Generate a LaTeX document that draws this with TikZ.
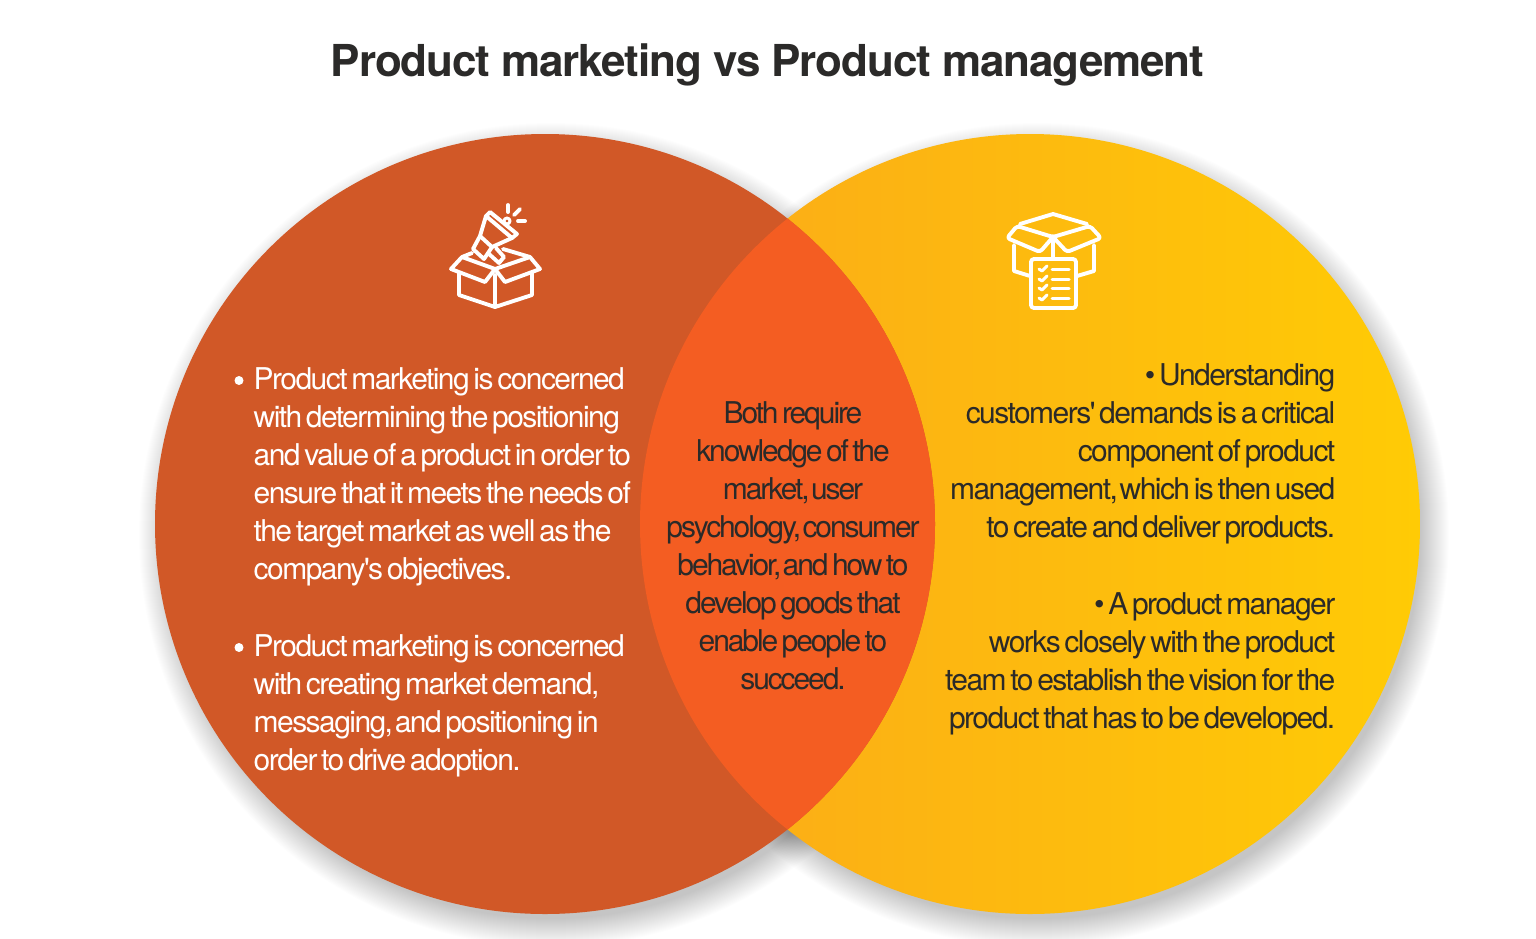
\documentclass[tikz,border=0pt]{standalone}
\usepackage{fontspec}
\setmainfont{TeX Gyre Heros}[LetterSpace=-5.2,WordSpace=0.55,Ligatures=TeXOff]
\newfontfamily\titlefont{TeX Gyre Heros}[LetterSpace=-2.5]
\newfontfamily\midfont{TeX Gyre Heros}[LetterSpace=-7,WordSpace=0.55,Ligatures=TeXOff]
\newcommand{\tightcomma}{,\kern-2pt\ }
\definecolor{leftc}{HTML}{D15827}
\definecolor{midc}{HTML}{F45D22}
\definecolor{yelA}{HTML}{FBA919}
\definecolor{yelB}{HTML}{FFCB05}
\definecolor{ink}{HTML}{2B2A29}
\tikzset{
  bodytext/.style={inner sep=0pt,font=\fontsize{30}{38.1}\selectfont,anchor=north west},
  icon/.style={draw=white,line width=3.9pt,line join=round,line cap=round},
}
\begin{document}
\begin{tikzpicture}[x=1pt,y=-1pt]
\useasboundingbox (0,0) rectangle (1536,938);
\fill[white] (0,0) rectangle (1536,938);
% shadows
\foreach \r in {412,411,...,384}{
  \fill[black,opacity=0.009] (1037,535) circle[radius=\r];
  \fill[black,opacity=0.009] (551,535) circle[radius=\r];
}
% circles
\begin{scope}
\clip (1030,524) circle[radius=390];
\shade[left color=yelA,right color=yelB] (640,134) rectangle (1420,914);
\end{scope}
\fill[leftc] (545,524) circle[radius=390];
\begin{scope}
\clip (545,524) circle[radius=390];
\fill[midc] (1030,524) circle[radius=390];
\end{scope}
% title
\node[inner sep=0pt,text=ink,font=\titlefont\bfseries\fontsize{44}{50}\selectfont] (title) at (767.5,65) {Product marketing vs Product management};
% left text
\fill[white] (239,380.5) circle[radius=4.5];
\fill[white] (239,647.5) circle[radius=4.5];
\node[bodytext,text=white,align=left] (l1) at (253.5,367) {Product marketing is concerned\\with determining the positioning\\and value of a product in order to\\ensure that it meets the needs of\\the target market as well as the\\company's objectives.};
\node[bodytext,text=white,align=left] (l2) at (253.5,634) {Product marketing is concerned\\with creating market demand,\\messaging\tightcomma and positioning in\\order to drive adoption.};
% centre text
\node[bodytext,text=ink,align=center,anchor=north] (c) at (793,401) {\midfont Both require\\\midfont knowledge of the\\\midfont market\tightcomma user\\\midfont psychology\tightcomma consumer\\\midfont behavior\tightcomma and how to\\\midfont develop goods that\\\midfont enable people to\\\midfont succeed.};
% right text
\node[bodytext,text=ink,align=right,anchor=north east] (r1) at (1335.5,363.5) {• Understanding\\customers' demands is a critical\\component of product\\management\tightcomma which is then used\\to create and deliver products.};
\node[bodytext,text=ink,align=right,anchor=north east] (r2) at (1335.5,592.5) {• A product manager\\works closely with the product\\team to establish the vision for the\\product that has to be developed.};
% icon 1: box with megaphone
\draw[icon] (459,273) -- (459,295) -- (495,307) -- (532,295) -- (532,273);
\draw[icon] (495,275) -- (495,307);
\draw[icon] (495,269) -- (485,282) -- (451,269) -- (462,257) -- (495,269) -- (505,282) -- (540,269) -- (530,257) -- (495,269);
\draw[icon] (462,257) -- (472,253);
\draw[icon] (530,257) -- (503,249);
% megaphone
\draw[icon] (490,212) -- (517,234) -- (512,238) -- (486,216) -- cycle;
\draw[icon] (486,216) -- (480,236) -- (492,247) -- (512,238);
\draw[icon] (480,236) -- (473,249) -- (484,259) -- (492,247);
\draw[icon] (489,254) -- (499,263) -- (504,257) -- (496,248);
\draw[icon,line width=3pt] (507,221) circle[radius=3];
\draw[icon] (508,205) -- (508,212);
\draw[icon] (514,215) -- (520,209);
\draw[icon] (518,221) -- (525,221);
% icon 2: box with checklist
\draw[icon] (1014,245) -- (1014,271) -- (1030,276);
\draw[icon] (1094,245) -- (1094,271) -- (1077,276);
\draw[icon] (1020,224) -- (1053,214) -- (1087,224);
\draw[icon,rounded corners=3pt] (1053,237) -- (1040,252) -- (1007,238) -- (1017,226) -- (1053,237) -- (1090,226) -- (1101,238) -- (1067,252) -- cycle;
\draw[icon] (1053,237) -- (1053,258);
\draw[icon,rounded corners=3pt] (1031,259) rectangle (1076,308);
\foreach \y in {269,279,288,298}{
  \draw[icon,line width=3pt] (1039,\y) -- (1042,\y+2) -- (1047,\y-3);
  \draw[icon,line width=3pt] (1052,\y) -- (1069,\y);
}
\end{tikzpicture}
\end{document}
